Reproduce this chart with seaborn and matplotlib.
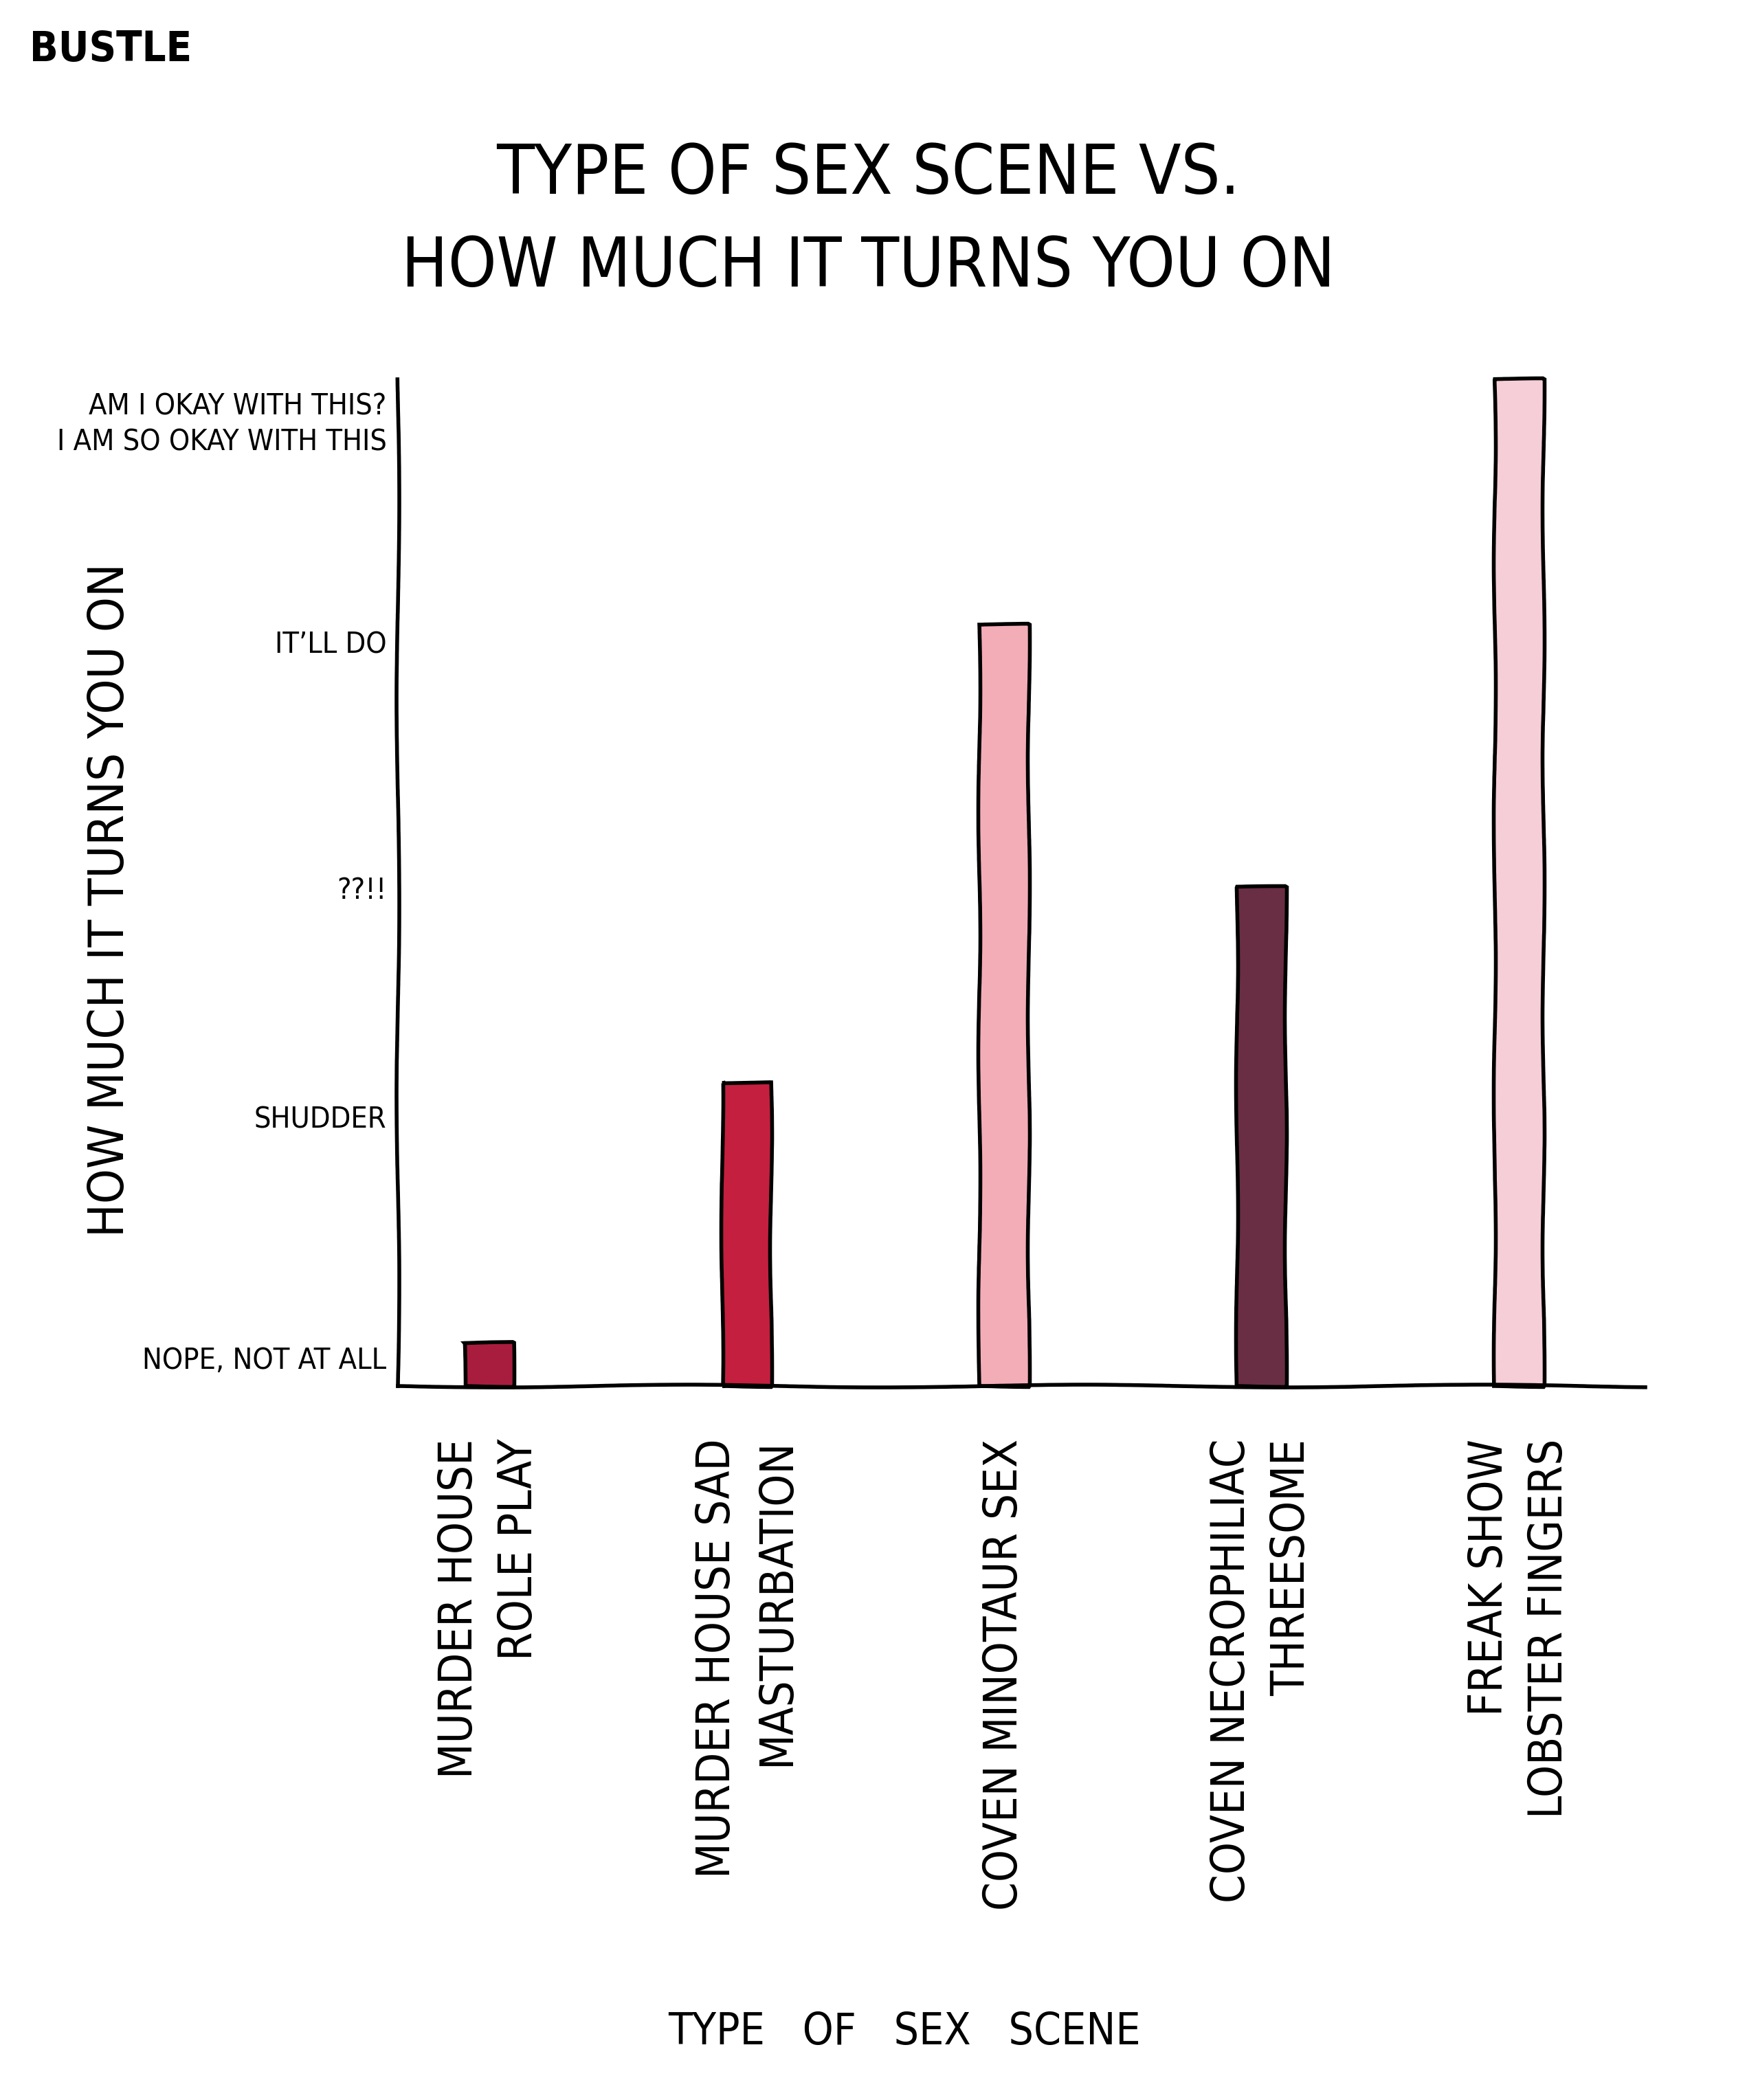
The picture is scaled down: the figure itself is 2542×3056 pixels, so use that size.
import matplotlib
matplotlib.use("Agg")
import matplotlib.pyplot as plt
import seaborn as sns

# Data
categories = ["MURDER HOUSE\nROLE PLAY", "MURDER HOUSE SAD\nMASTURBATION",
              "COVEN MINOTAUR SEX", "COVEN NECROPHILIAC\nTHREESOME",
              "FREAK SHOW\nLOBSTER FINGERS"]
scores = [0.18, 1.26, 3.16, 2.07, 4.18]
level_values = [0.12, 1.12, 2.07, 3.09, 4.02]
level_labels = ["NOPE, NOT AT ALL", "SHUDDER", "??!!", "IT\u2019LL DO",
                "AM I OKAY WITH THIS?\nI AM SO OKAY WITH THIS"]
bar_colors = ["#A81D3E", "#C41F3E", "#F3ADB7", "#692E43", "#F5CED7"]

sns.set_theme(style="white")
plt.rcParams['font.family'] = ['DejaVu Sans']
plt.rcParams['font.stretch'] = 'condensed'
plt.rcParams['font.weight'] = 'light'
for key in ['text.color', 'axes.labelcolor', 'xtick.color', 'ytick.color']:
    plt.rcParams[key] = 'black'

fig = plt.figure(figsize=(25.42, 30.56), dpi=100)
ax = fig.add_axes([0.2278, 0.3399, 0.9417 - 0.2278, 0.8195 - 0.3399])

sns.barplot(x=categories, y=scores, hue=categories, palette=bar_colors,
            width=0.19, saturation=1, legend=False, edgecolor="black",
            linewidth=4, ax=ax)

for p in ax.patches:
    p.set_clip_on(False)
    p.set_sketch_params(scale=1.5, length=500, randomness=4)

ax.set_xlim(-0.354, 4.49)
ax.set_ylim(0, 4.18)

ax.set_yticks(level_values)
ax.set_yticklabels(level_labels, fontsize=31, linespacing=1.3)
ax.tick_params(axis="y", length=0, pad=12)
ax.tick_params(axis="x", length=0, pad=55)
ax.set_xticks(range(len(categories)))
ax.set_xticklabels(categories, rotation=90, fontsize=48, va="top", ha="center",
                   multialignment="right", linespacing=1.4)

for side in ["top", "right"]:
    ax.spines[side].set_visible(False)
for side in ["left", "bottom"]:
    ax.spines[side].set_color("black")
    ax.spines[side].set_linewidth(4)
    ax.spines[side].set_sketch_params(scale=2, length=800, randomness=4)

ax.set_ylabel("HOW MUCH IT TURNS YOU ON", fontsize=52)
ax.yaxis.set_label_coords(-0.2115, 0.483)
ax.set_xlabel("TYPE   OF   SEX   SCENE", fontsize=46)
ax.xaxis.set_label_coords(0.406, -0.62)

fig.text(0.497, 0.8945, "TYPE OF SEX SCENE VS.\nHOW MUCH IT TURNS YOU ON",
         ha="center", va="center", fontsize=72, linespacing=1.5)
fig.text(0.017, 0.986, "BUSTLE", ha="left", va="top", fontsize=44,
         fontweight="bold")

fig.savefig("out.png", dpi=100, facecolor="white")
